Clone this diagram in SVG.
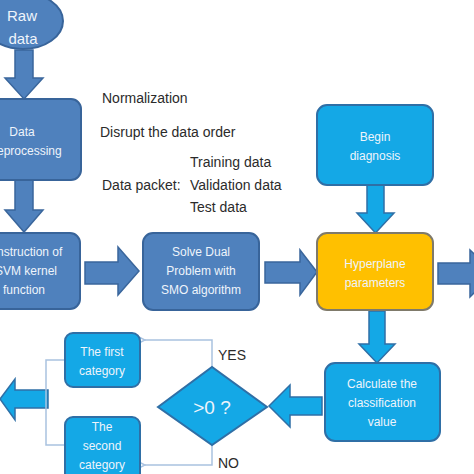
<svg xmlns="http://www.w3.org/2000/svg" width="474" height="474" viewBox="0 0 474 474">
<defs>
<style>
.dk{fill:#4F81BD;stroke:#38649A;stroke-width:2}
.lt{fill:#14A8E6;stroke:#2F6FA6;stroke-width:2}
.yl{fill:#FFC000;stroke:#7F7A6A;stroke-width:2}
.ad{fill:#4F81BD;stroke:#3A669C;stroke-width:1.5}
.al{fill:#14A8E6;stroke:#2F6FA6;stroke-width:1.5}
.bt{font-family:"Liberation Sans",Arial,sans-serif;font-size:12px;fill:#EEF4FB;text-anchor:middle}
.lb{font-family:"Liberation Sans",Arial,sans-serif;font-size:14px;fill:#2B2B2B}
.cn{fill:none;stroke:#A9C2E0;stroke-width:1.5}
</style>
<marker id="oa" markerWidth="10" markerHeight="10" refX="1" refY="5" orient="auto" markerUnits="userSpaceOnUse">
<path d="M9,1 L1,5 L9,9" fill="none" stroke="#A9C2E0" stroke-width="1.5"/>
</marker>
</defs>
<rect width="474" height="474" fill="#FFFFFF"/>

<g id="connectors">
<polygon class="ad" points="15,50 33,50 33,78 43,78 24,99 5,78 15,78"/>
<polygon class="ad" points="15,180 33,180 33,210 43,210 24,232 5,210 15,210"/>
<polygon class="ad" points="85,262 118,262 118,247 139,271 118,295 118,284 85,284"/>
<polygon class="ad" points="265,262 300,262 300,250 317,272 300,295 300,283 265,283"/>
<polygon class="ad" points="438,263 470,263 470,250 494,273 470,297 470,284 438,284"/>
<polygon class="al" points="367,185 384,185 384,213 394,213 375.5,233 357,213 367,213"/>
<polygon class="al" points="369,311 385,311 385,344 395,344 377,363 359,344 369,344"/>
<polygon class="al" points="322,397 290,397 290,385 269,406 290,427 290,415 322,415"/>
<polygon class="al" points="48,390 15,390 15,379 0,399 15,420 15,408 48,408"/>
<path class="cn" d="M212,367 V340 H145" marker-end="url(#oa)"/>
<path class="cn" d="M212,445 V465 H145" marker-end="url(#oa)"/>
<path class="cn" d="M65,360 H46 V445 H65"/>
</g>

<g id="raw-data">
<ellipse cx="23" cy="21" rx="40" ry="28" class="dk"/>
<text class="bt" x="22" y="21" style="font-size:15px">Raw</text>
<text class="bt" x="23" y="44" style="font-size:15px">data</text>
</g>

<g id="data-preprocessing">
<rect x="-40" y="99" width="121" height="81" rx="10" class="dk"/>
<text class="bt" x="22" y="136">Data</text>
<text class="bt" x="24" y="155">preprocessing</text>
</g>

<g id="construction">
<rect x="-40" y="233" width="120" height="76" rx="10" class="dk"/>
<text class="bt" x="22" y="256">Construction of</text>
<text class="bt" x="26" y="275">SVM kernel</text>
<text class="bt" x="24" y="294">function</text>
</g>

<g id="solve">
<rect x="143" y="233" width="116" height="77" rx="10" class="dk"/>
<text class="bt" x="201" y="256">Solve Dual</text>
<text class="bt" x="201" y="275">Problem with</text>
<text class="bt" x="201" y="294">SMO algorithm</text>
</g>

<g id="hyperplane">
<rect x="317" y="233" width="116" height="77" rx="10" class="yl"/>
<text class="bt" x="375" y="268">Hyperplane</text>
<text class="bt" x="375" y="287">parameters</text>
</g>

<g id="begin-diagnosis">
<rect x="317" y="105" width="116" height="80" rx="10" class="lt"/>
<text class="bt" x="375" y="141">Begin</text>
<text class="bt" x="375" y="160">diagnosis</text>
</g>

<g id="calculate">
<rect x="325" y="363" width="115" height="78" rx="10" class="lt"/>
<text class="bt" x="382" y="388">Calculate the</text>
<text class="bt" x="382" y="407">classification</text>
<text class="bt" x="382" y="426">value</text>
</g>

<g id="decision">
<polygon points="158,407 212,367 267,407 212,445" class="lt"/>
<text class="bt" x="212" y="414" style="font-size:19px">&gt;0 ?</text>
<text class="lb" x="218" y="360">YES</text>
<text class="lb" x="218" y="468">NO</text>
</g>

<g id="first-category">
<rect x="65" y="333" width="75" height="54" rx="8" class="lt"/>
<text class="bt" x="102" y="356">The first</text>
<text class="bt" x="102" y="375">category</text>
</g>

<g id="second-category">
<rect x="65" y="417" width="75" height="64" rx="8" class="lt"/>
<text class="bt" x="102" y="431">The</text>
<text class="bt" x="102" y="450">second</text>
<text class="bt" x="102" y="469">category</text>
</g>

<g id="labels">
<text class="lb" x="102" y="103">Normalization</text>
<text class="lb" x="100" y="137">Disrupt the data order</text>
<text class="lb" x="190" y="167">Training data</text>
<text class="lb" x="102" y="190">Data packet:</text>
<text class="lb" x="190" y="190">Validation data</text>
<text class="lb" x="190" y="212">Test data</text>
</g>
</svg>
